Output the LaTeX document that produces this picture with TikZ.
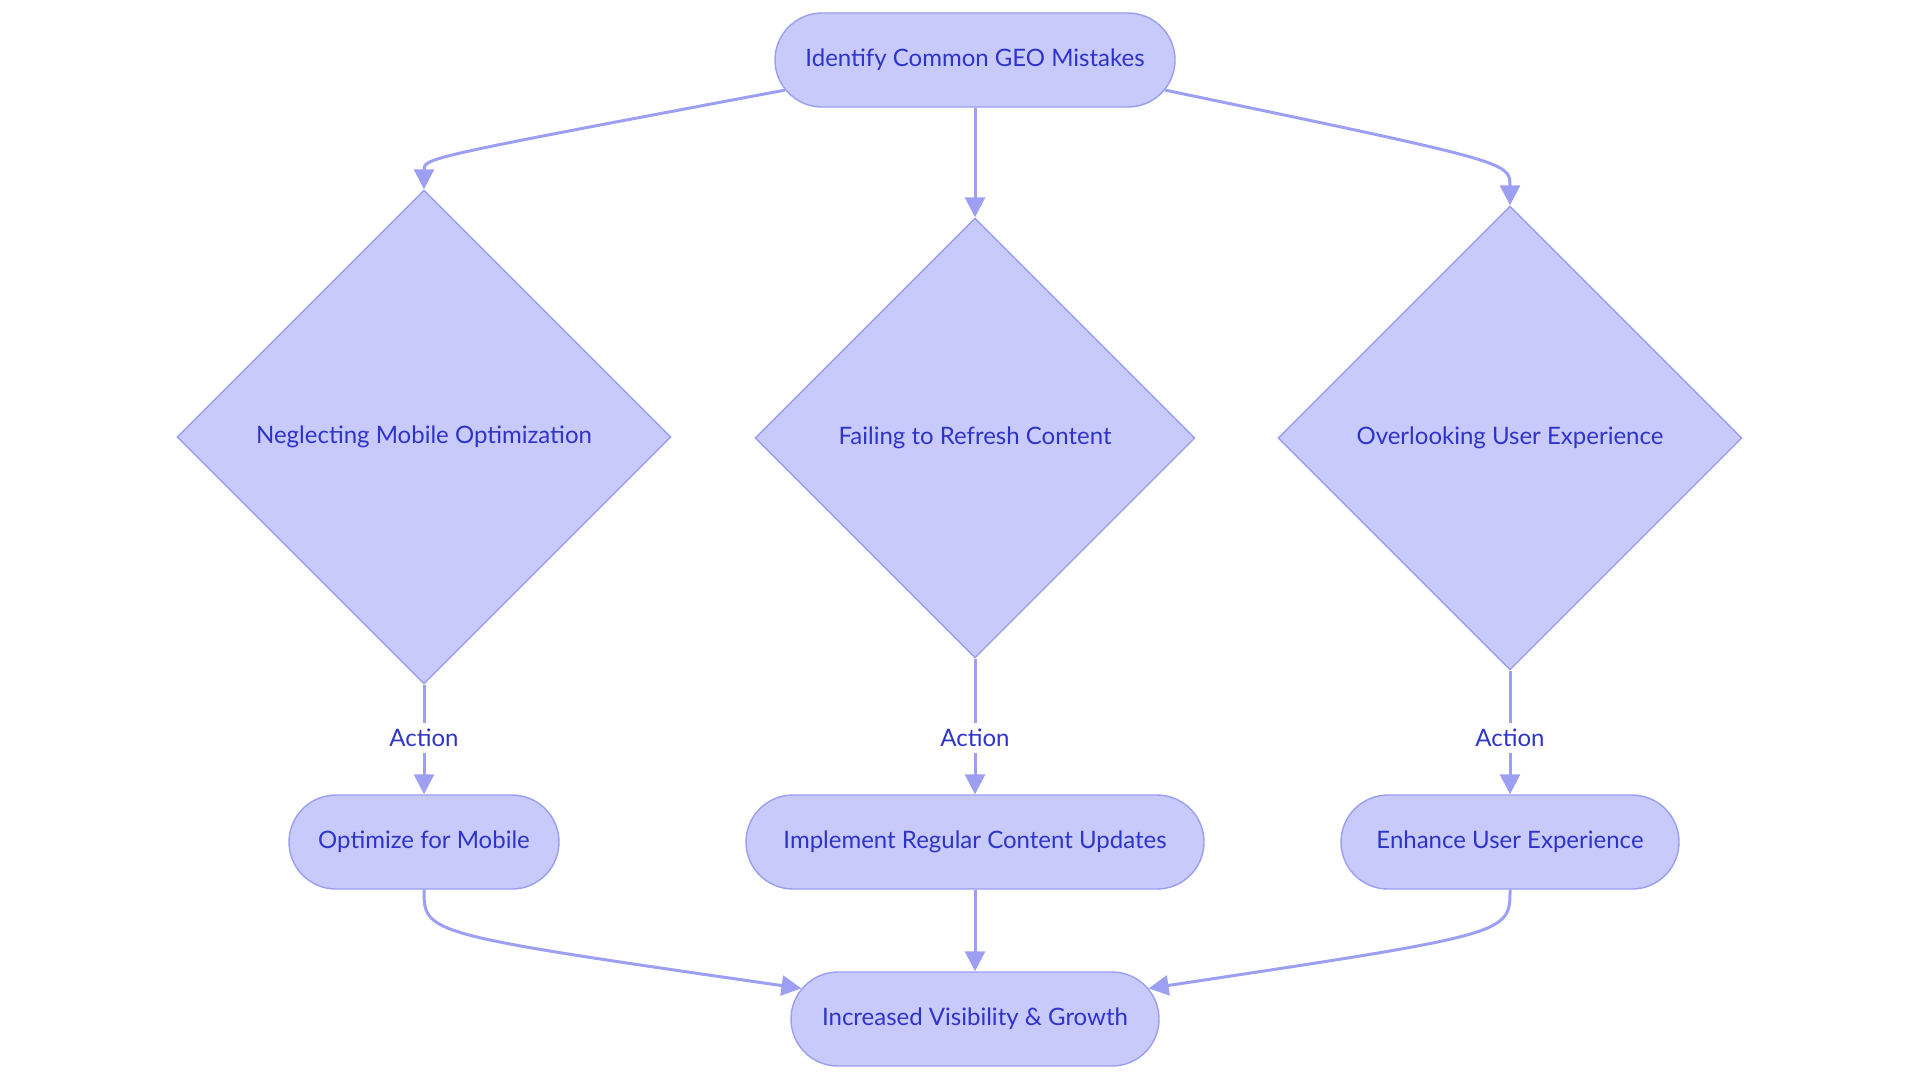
\documentclass[tikz,border=0pt]{standalone}
\usepackage{fontspec}
\setmainfont{Lato}
\usepackage{xcolor}
\usepackage{tikz}
\usetikzlibrary{shapes.geometric,shapes.misc,arrows.meta,positioning}
\definecolor{nodeFill}{HTML}{C8CAFC}
\definecolor{nodeLine}{HTML}{9B9EF0}
\definecolor{edgeLine}{HTML}{9DA0F2}
\definecolor{nodeText}{HTML}{2F34C9}

\begin{document}
\begin{tikzpicture}[
    x=0.5pt, y=-0.5pt,
    font=\fontsize{12}{14}\selectfont,
    pill/.style={rounded rectangle, draw=nodeLine, fill=nodeFill, text=nodeText,
                 line width=0.7pt, minimum height=47pt, inner sep=2pt},
    choice/.style={diamond, aspect=1, draw=nodeLine, fill=nodeFill, text=nodeText,
                   line width=0.7pt, inner sep=0pt},
    act/.style={fill=white, text=nodeText, inner sep=3pt},
    edge/.style={draw=edgeLine, line width=1.5pt,
                 -{Triangle[length=10pt, width=10pt]}},
    plain/.style={draw=edgeLine, line width=1.5pt},
  ]
  \useasboundingbox (0,0) rectangle (1920,1083);

  \node[pill, minimum width=204pt] (idf) at (975,60) {Identify Common GEO Mistakes};

  \node[choice, minimum size=247pt] (d1) at (424,437) {Neglecting Mobile Optimization};
  \node[choice, minimum size=220pt] (d2) at (975,438) {Failing to Refresh Content};
  \node[choice, minimum size=232pt] (d3) at (1510,438) {Overlooking User Experience};

  \node[act] (a1) at (424,738) {Action};
  \node[act] (a2) at (975,738) {Action};
  \node[act] (a3) at (1510,738) {Action};

  \node[pill, minimum width=139pt] (opt) at (424,842) {Optimize for Mobile};
  \node[pill, minimum width=233pt] (upd) at (975,842) {Implement Regular Content Updates};
  \node[pill, minimum width=173pt] (ux) at (1510,842) {Enhance User Experience};

  \node[pill, minimum width=188pt] (fin) at (975,1019) {Increased Visibility \& Growth};

  \draw[edge] (idf.189) .. controls (424,158) and (424,158) .. (d1.north);
  \draw[edge] (idf.south) -- (d2.north);
  \draw[edge] (idf.351) .. controls (1510,162) and (1510,162) .. (d3.north);

  \draw[plain] (d1.south) -- (a1);
  \draw[plain] (d2.south) -- (a2);
  \draw[plain] (d3.south) -- (a3);
  \draw[edge] (a1) -- (opt);
  \draw[edge] (a2) -- (upd);
  \draw[edge] (a3) -- (ux);

  \draw[edge] (opt.south) .. controls (424,934) and (424,934) .. (fin.170);
  \draw[edge] (upd.south) -- (fin.north);
  \draw[edge] (ux.south) .. controls (1510,934) and (1510,934) .. (fin.10);
\end{tikzpicture}
\end{document}
